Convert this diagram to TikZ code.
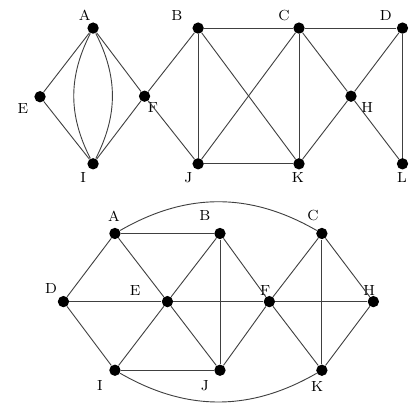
\documentclass[tikz,border=0pt]{standalone}
\usetikzlibrary{positioning}
\tikzset{
  vtx/.style={circle, fill=black, inner sep=0pt, minimum size=6.2pt},
  lbl/.style={inner sep=0pt, font=\footnotesize},
  every edge/.style={draw, black!75, line width=0.5pt}
}
\begin{document}
\begin{tikzpicture}
    \useasboundingbox (0,0) rectangle (8.077,-7.923);
    % top graph
    \node[vtx] (A1) at (1.79,-0.54) {};
    \node[vtx] (E1) at (0.77,-1.86) {};
    \node[vtx] (F1) at (2.78,-1.85) {};
    \node[vtx] (I1) at (1.79,-3.15) {};
    \node[vtx] (B1) at (3.81,-0.54) {};
    \node[vtx] (J1) at (3.81,-3.15) {};
    \node[vtx] (C1) at (5.75,-0.54) {};
    \node[vtx] (K1) at (5.75,-3.15) {};
    \node[vtx] (H1) at (6.75,-1.85) {};
    \node[vtx] (D1) at (7.74,-0.54) {};
    \node[vtx] (L1) at (7.74,-3.15) {};
    \node[lbl] (tA1) at (1.63,-0.29) {A};
    \node[lbl] (tE1) at (0.44,-2.08) {E};
    \node[lbl] (tF1) at (2.94,-2.06) {F};
    \node[lbl] (tI1) at (1.60,-3.42) {I};
    \node[lbl] (tB1) at (3.40,-0.29) {B};
    \node[lbl] (tJ1) at (3.62,-3.42) {J};
    \node[lbl] (tC1) at (5.46,-0.29) {C};
    \node[lbl] (tD1) at (7.42,-0.29) {D};
    \node[lbl] (tH1) at (7.06,-2.06) {H};
    \node[lbl] (tK1) at (5.73,-3.42) {K};
    \node[lbl] (tL1) at (7.73,-3.42) {L};
    \draw (A1) edge (E1);
    \draw (A1) edge (F1);
    \draw (E1) edge (I1);
    \draw (I1) edge (F1);
    \draw (A1) edge[bend left=27] (I1);
    \draw (A1) edge[bend right=27] (I1);
    \draw (F1) edge (B1);
    \draw (F1) edge (J1);
    \draw (B1) edge (J1);
    \draw (B1) edge (C1);
    \draw (B1) edge (K1);
    \draw (C1) edge (J1);
    \draw (C1) edge (K1);
    \draw (J1) edge (K1);
    \draw (C1) edge (D1);
    \draw (C1) edge (H1);
    \draw (D1) edge (H1);
    \draw (D1) edge (L1);
    \draw (H1) edge (K1);
    \draw (H1) edge (L1);
    % bottom graph
    \node[vtx] (A2) at (2.21,-4.49) {};
    \node[vtx] (B2) at (4.23,-4.49) {};
    \node[vtx] (C2) at (6.19,-4.49) {};
    \node[vtx] (D2) at (1.22,-5.80) {};
    \node[vtx] (E2) at (3.22,-5.80) {};
    \node[vtx] (F2) at (5.18,-5.80) {};
    \node[vtx] (H2) at (7.18,-5.80) {};
    \node[vtx] (I2) at (2.21,-7.12) {};
    \node[vtx] (J2) at (4.23,-7.12) {};
    \node[vtx] (K2) at (6.19,-7.12) {};
    \node[lbl] (tA2) at (2.19,-4.15) {A};
    \node[lbl] (tB2) at (3.94,-4.15) {B};
    \node[lbl] (tC2) at (6.02,-4.15) {C};
    \node[lbl] (tD2) at (0.98,-5.54) {D};
    \node[lbl] (tE2) at (2.60,-5.58) {E};
    \node[lbl] (tF2) at (5.10,-5.58) {F};
    \node[lbl] (tH2) at (7.10,-5.58) {H};
    \node[lbl] (tI2) at (1.92,-7.42) {I};
    \node[lbl] (tJ2) at (3.94,-7.42) {J};
    \node[lbl] (tK2) at (6.10,-7.44) {K};
    \draw (A2) edge (B2);
    \draw (A2) edge (D2);
    \draw (A2) edge (E2);
    \draw (D2) edge (E2);
    \draw (E2) edge (F2);
    \draw (F2) edge (H2);
    \draw (D2) edge (I2);
    \draw (I2) edge (E2);
    \draw (I2) edge (J2);
    \draw (E2) edge (B2);
    \draw (E2) edge (J2);
    \draw (B2) edge (J2);
    \draw (B2) edge (F2);
    \draw (J2) edge (F2);
    \draw (F2) edge (C2);
    \draw (F2) edge (K2);
    \draw (C2) edge (K2);
    \draw (C2) edge (H2);
    \draw (H2) edge (K2);
    \draw (A2) edge[bend left=30] (C2);
    \draw (I2) edge[bend right=30] (K2);
\end{tikzpicture}
\end{document}
